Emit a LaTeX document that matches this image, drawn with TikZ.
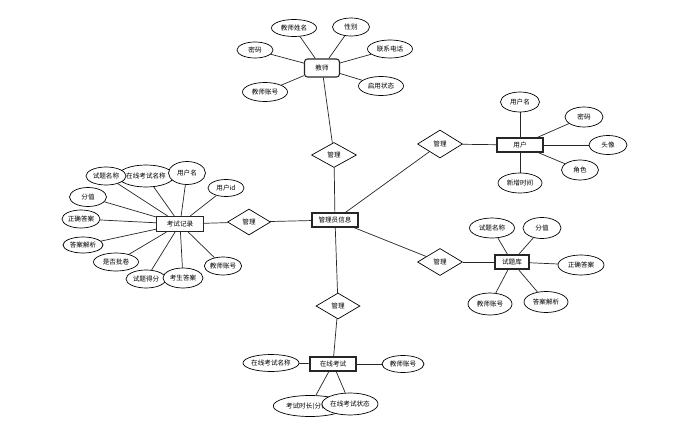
\documentclass[tikz,border=0pt]{standalone}
\usepackage{fontspec}
\newfontfamily\cjk{Noto Sans CJK SC}
\usetikzlibrary{shapes.geometric}
\pgfdeclarelayer{bg}
\pgfsetlayers{bg,main}
\tikzset{
  attr/.style={ellipse,draw=black,line width=0.7pt,fill=white,inner sep=0pt,font=\cjk\fontsize{6.6}{7}\selectfont},
  ent/.style={rectangle,draw=black!85,line width=1.1pt,fill=white,inner sep=0pt,font=\cjk\fontsize{6.6}{7}\selectfont},
  rel/.style={diamond,draw=black,line width=0.7pt,fill=white,inner sep=0pt,font=\cjk\fontsize{6.6}{7}\selectfont},
  lnk/.style={draw=black!85,line width=0.7pt}
}
\begin{document}
\begin{tikzpicture}[x=1pt,y=-1pt]
\useasboundingbox (0,0) rectangle (681,428);
% central
\node[ent,minimum width=46,minimum height=14] (adm) at (335,220) {管理员信息};
% teacher
\node[ent,rounded corners=3pt,minimum width=35,minimum height=18] (tea) at (322,68) {教师};
\node[attr,minimum width=36,minimum height=16] (t1) at (255,50) {密码};
\node[attr,minimum width=45,minimum height=17] (t2) at (294,28) {教师姓名};
\node[attr,minimum width=37,minimum height=18] (t3) at (351,27) {性别};
\node[attr,minimum width=45,minimum height=18] (t4) at (390,49) {联系电话};
\node[attr,minimum width=45,minimum height=19] (t5) at (381,86) {启用状态};
\node[attr,minimum width=45,minimum height=19] (t6) at (265,92) {教师账号};
\node[rel,minimum width=45,minimum height=25] (r1) at (334,155) {管理};
% user
\node[ent,minimum width=46,minimum height=14] (usr) at (520,145) {用户};
\node[rel,minimum width=45,minimum height=28] (r2) at (440,144) {管理};
\node[attr,minimum width=39,minimum height=20] (u1) at (520,102) {用户名};
\node[attr,minimum width=38,minimum height=20] (u2) at (584,117) {密码};
\node[attr,minimum width=38,minimum height=19] (u3) at (608,145) {头像};
\node[attr,minimum width=37,minimum height=20] (u4) at (580,170) {角色};
\node[attr,minimum width=44,minimum height=20] (u5) at (520,183) {新增时间};
% question bank
\node[ent,minimum width=34,minimum height=14] (qb) at (512,262) {试题库};
\node[rel,minimum width=45,minimum height=27] (r3) at (440,262) {管理};
\node[attr,minimum width=45,minimum height=20] (q1) at (492,228) {试题名称};
\node[attr,minimum width=38,minimum height=21] (q2) at (542,228) {分值};
\node[attr,minimum width=46,minimum height=20] (q3) at (581,265) {正确答案};
\node[attr,minimum width=44,minimum height=21] (q4) at (546,302) {答案解析};
\node[attr,minimum width=44,minimum height=22] (q5) at (490,304) {教师账号};
% exam record
\node[ent,minimum width=47,minimum height=15] (rec) at (180,224) {考试记录};
\node[rel,minimum width=43,minimum height=26] (r4) at (249,222) {管理};
\node[attr,minimum width=52,minimum height=22] (e2) at (146,176) {在线考试名称};
\node[attr,minimum width=40,minimum height=18] (e1) at (106,176) {试题名称};
\node[attr,minimum width=37,minimum height=23] (e3) at (187,173) {用户名};
\node[attr,minimum width=36,minimum height=17] (e4) at (226,188) {用户id};
\node[attr,minimum width=37,minimum height=19] (e5) at (88,197) {分值};
\node[attr,minimum width=38,minimum height=18] (e6) at (81,219) {正确答案};
\node[attr,minimum width=40,minimum height=16] (e7) at (83,245) {答案解析};
\node[attr,minimum width=45,minimum height=18] (e8) at (116,262) {是否批卷};
\node[attr,minimum width=40,minimum height=18] (e9) at (146,279) {试题得分};
\node[attr,minimum width=40,minimum height=20] (e10) at (183,278) {考生答案};
\node[attr,minimum width=37,minimum height=18] (e11) at (223,266) {教师账号};
% online exam
\node[ent,minimum width=46,minimum height=14] (oe) at (333,364) {在线考试};
\node[rel,minimum width=44,minimum height=26] (r5) at (338,306) {管理};
\node[attr,minimum width=51,minimum height=17] (o1) at (271,363) {在线考试名称};
\node[attr,minimum width=42,minimum height=17] (o2) at (403,364) {教师账号};
\node[attr,minimum width=60,minimum height=21,text width=52,align=left] (o3) at (310,406) {\hspace*{2pt}考试时长(分钟)};
\node[attr,minimum width=51,minimum height=22] (o4) at (350,404) {在线考试状态};
% connectors
\begin{pgfonlayer}{bg}
\fill[white] (0,0) rectangle (681,428);
\draw[lnk] (adm) -- (r1);
\draw[lnk] (r1) -- (tea);
\draw[lnk] (adm) -- (r2);
\draw[lnk] (r2) -- (usr);
\draw[lnk] (adm) -- (r3);
\draw[lnk] (r3) -- (qb);
\draw[lnk] (adm) -- (r4);
\draw[lnk] (r4) -- (rec);
\draw[lnk] (adm) -- (r5);
\draw[lnk] (r5) -- (oe);
\foreach \a in {t1,t2,t3,t4,t5,t6} \draw[lnk] (tea) -- (\a);
\foreach \a in {u1,u2,u3,u4,u5} \draw[lnk] (usr) -- (\a);
\foreach \a in {q1,q2,q3,q4,q5} \draw[lnk] (qb) -- (\a);
\foreach \a in {e1,e2,e3,e4,e5,e6,e7,e8,e9,e10,e11} \draw[lnk] (rec) -- (\a);
\foreach \a in {o1,o2,o3,o4} \draw[lnk] (oe) -- (\a);
\end{pgfonlayer}
\end{tikzpicture}
\end{document}
